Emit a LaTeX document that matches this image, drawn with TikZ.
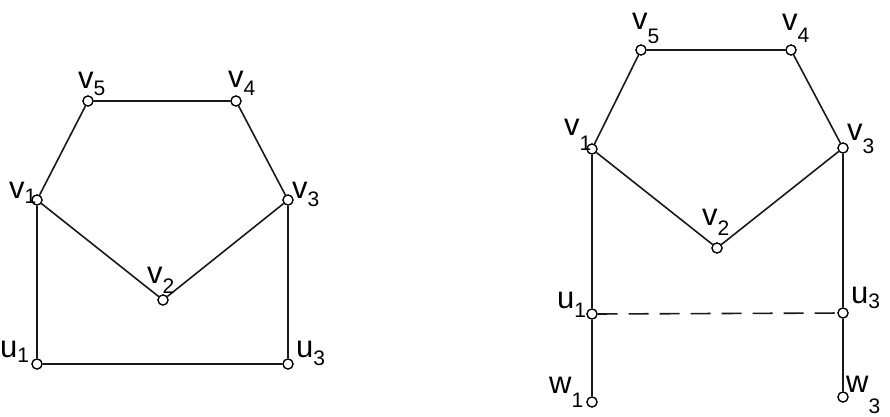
\documentclass[tikz,border=0pt]{standalone}
\usepackage{fontspec}
\setmainfont{Liberation Sans}
\newcommand{\lbsub}[2]{\raisebox{-#2pt}{\fontsize{21}{21}\selectfont #1}}
\begin{document}
\begin{tikzpicture}[x=1pt,y=-1pt,
  vtx/.style={circle,draw=black,fill=white,line width=1.2pt,inner sep=0pt,minimum size=10pt},
  edge/.style={line width=1.6pt,draw=black!90},
  dashedge/.style={edge,dash pattern=on 20pt off 11pt},
  lab/.style={anchor=base west,inner sep=0pt,font=\fontsize{31}{31}\selectfont}]
\useasboundingbox[fill=white] (0,0) rectangle (890,416);
% left graph
\node[vtx] (a5) at (88,101) {};
\node[vtx] (a4) at (236,101) {};
\node[vtx] (a1) at (37,200) {};
\node[vtx] (a3) at (288,200) {};
\node[vtx] (a2) at (163,300) {};
\node[vtx] (b1) at (37,364) {};
\node[vtx] (b3) at (288,364) {};
\draw[edge] (a1) -- (a5) -- (a4) -- (a3) -- (a2) -- (a1);
\draw[edge] (a1) -- (b1) -- (b3) -- (a3);
\node[vtx] at (a5) {};\node[vtx] at (a4) {};\node[vtx] at (a1) {};
\node[vtx] at (a3) {};\node[vtx] at (a2) {};\node[vtx] at (b1) {};\node[vtx] at (b3) {};
\node[lab] (la5) at (78,88) {v\lbsub{5}{7}};
\node[lab] (la4) at (228,87) {v\lbsub{4}{8}};
\node[lab] (la1) at (9,198) {v\lbsub{1}{5}};
\node[lab] (la3) at (292,198) {v\lbsub{3}{8.5}};
\node[lab] (la2) at (147,283) {v\lbsub{2}{10}};
\node[lab] (lb1) at (0,357) {u\lbsub{1}{5}};
\node[lab] (lb3) at (296,357) {u\lbsub{3}{8}};
% right graph
\node[vtx] (c5) at (641,50) {};
\node[vtx] (c4) at (791,50) {};
\node[vtx] (c1) at (592,149) {};
\node[vtx] (c3) at (843,148) {};
\node[vtx] (c2) at (717,248) {};
\node[vtx] (d1) at (592,314) {};
\node[vtx] (d3) at (843,313) {};
\node[vtx] (e1) at (592,402) {};
\node[vtx] (e3) at (843,397) {};
\draw[edge] (c1) -- (c5) -- (c4) -- (c3) -- (c2) -- (c1);
\draw[edge] (c1) -- (d1) -- (e1);
\draw[edge] (c3) -- (d3) -- (e3);
\draw[dashedge] (d1) -- (d3);
\node[vtx] at (c5) {};\node[vtx] at (c4) {};\node[vtx] at (c1) {};
\node[vtx] at (c3) {};\node[vtx] at (c2) {};\node[vtx] at (d1) {};
\node[vtx] at (d3) {};\node[vtx] at (e1) {};\node[vtx] at (e3) {};
\node[lab] (lc5) at (632,29) {v\lbsub{5}{14}};
\node[lab] (lc4) at (782,30) {v\lbsub{4}{12}};
\node[lab] (lc1) at (564,135) {v\lbsub{1}{15}};
\node[lab] (lc3) at (847,140) {v\lbsub{3}{13}};
\node[lab] (lc2) at (702,225) {v\lbsub{2}{10}};
\node[lab] (ld1) at (557,308) {u\lbsub{1}{9}};
\node[lab] (ld3) at (851,303) {u\lbsub{3}{5}};
\node[lab] (le1) at (549,393) {w\lbsub{1}{14}};
\node[lab] (le3) at (846,392) {w\lbsub{3}{21}};
\end{tikzpicture}
\end{document}
